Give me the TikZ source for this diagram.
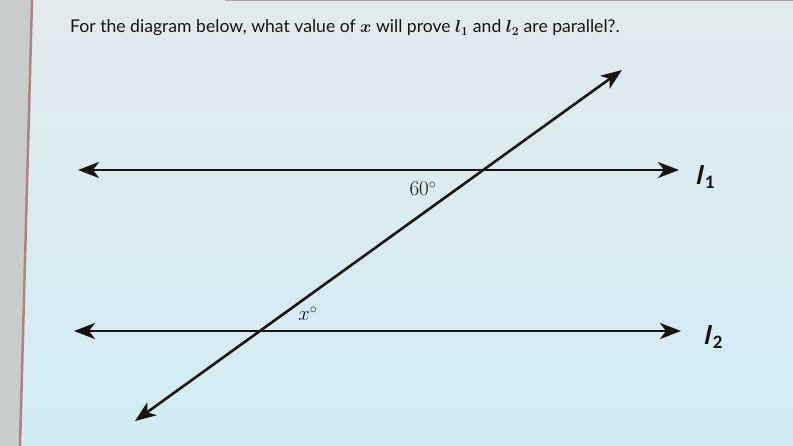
\documentclass[tikz,border=0pt]{standalone}
\usepackage{fontspec}
\usepackage{bm}
\setsansfont{Lato}
\newfontfamily\labfont{Carlito}[FakeSlant=0.22]
\newfontfamily\labup{Carlito}
\usetikzlibrary{arrows.meta}
\definecolor{bgtop}{RGB}{226,234,237}
\definecolor{bgbot}{RGB}{210,236,244}
\definecolor{bgside}{RGB}{200,205,204}
\definecolor{edgepink}{RGB}{176,130,130}
\definecolor{ink}{RGB}{25,20,20}
\tikzset{
  geoline/.style={line width=2.6pt, draw=ink, {Stealth[length=21pt,width=16pt,inset=6pt]}-{Stealth[length=21pt,width=16pt,inset=6pt]}},
  titletext/.style={font=\sffamily\fontsize{17.6}{20}\selectfont, text=ink, inner sep=0pt, anchor=base west},
  anglabel/.style={font=\fontsize{21}{24}\selectfont, text=ink, inner sep=0pt},
  linelabel/.style={font=\bfseries\fontsize{27}{30}\selectfont, text=ink, inner sep=0pt}
}
\newcommand{\lineName}[1]{{\labfont l}\kern3pt\textsubscript{\labup #1}}
\begin{document}
\begin{tikzpicture}[x=1pt,y=-1pt]
\useasboundingbox (0,0) rectangle (793,446);
\shade[top color=bgtop, bottom color=bgbot] (0,0) rectangle (793,446);
\fill[bgside] (0,0) -- (32,0) -- (20,446) -- (0,446) -- cycle;
\draw[edgepink, line width=2.5pt] (32,0) -- (20,446);
\draw[gray!70, line width=2pt] (225,0) -- (793,0);
\node[titletext] (title) at (70,33) {For the diagram below, what value of $\bm{x}$ will prove $\bm{l_1}$ and $\bm{l_2}$ are parallel?.};
\coordinate (aL) at (78,170);
\coordinate (aR) at (679,170);
\coordinate (bL) at (74,331);
\coordinate (bR) at (681,331);
\coordinate (tTop) at (622,70);
\coordinate (tBot) at (135,421);
\draw[geoline] (aL) -- (aR);
\draw[geoline] (bL) -- (bR);
\draw[geoline] (tBot) -- (tTop);
\node[anglabel] (sixty) at (423,189) {60$^{\circ}$};
\node[anglabel] (xang) at (308,314) {$x^{\circ}$};
\node[linelabel] (lone) at (705,177) {\lineName{1}};
\node[linelabel] (ltwo) at (713,337) {\lineName{2}};
\end{tikzpicture}
\end{document}
